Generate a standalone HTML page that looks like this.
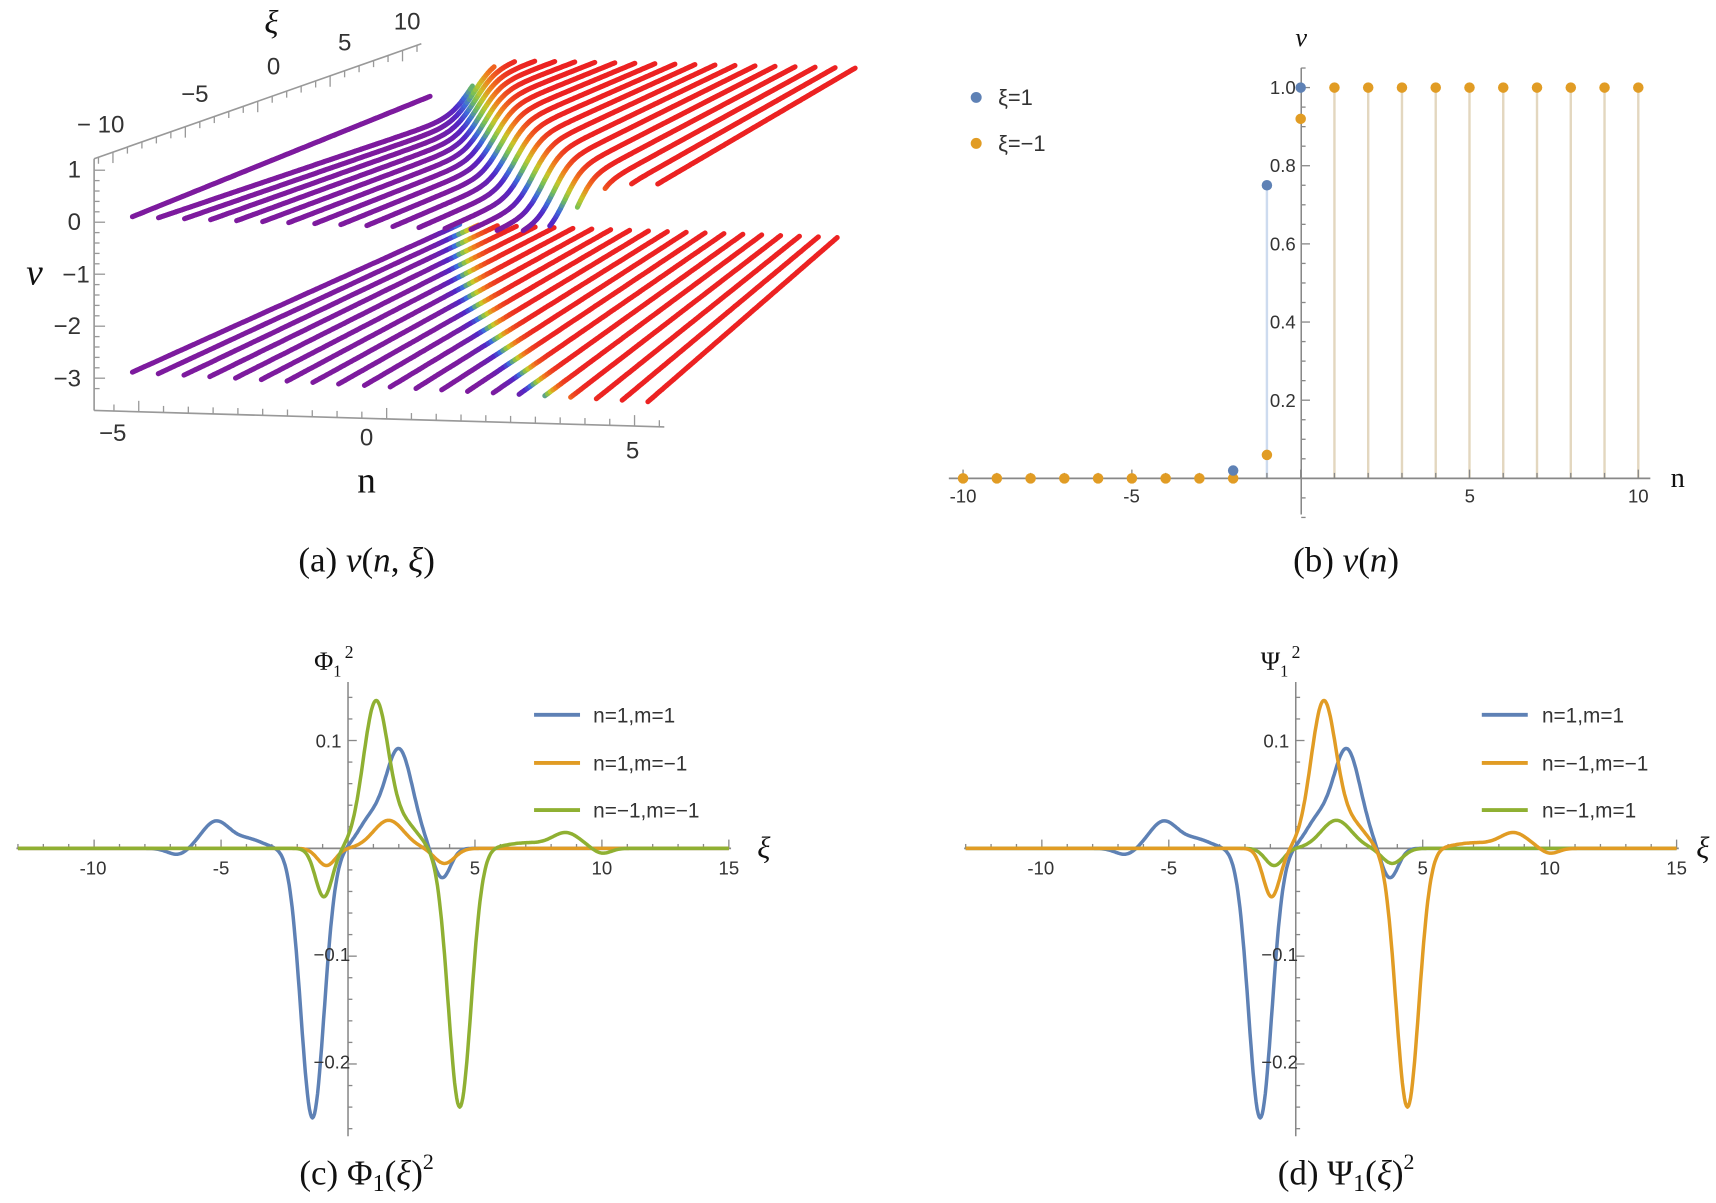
<!DOCTYPE html>
<html><head><meta charset="utf-8"><style>
html,body{margin:0;padding:0;background:#fff;}
svg{display:block;}
.t{font-family:"Liberation Sans",sans-serif;fill:#333;}
.s{font-family:"Liberation Serif",serif;fill:#111;}
</style></head><body>
<svg id="sv" xmlns="http://www.w3.org/2000/svg" width="1716" height="1203" viewBox="0 0 1568 1099" preserveAspectRatio="none">
<rect width="1568" height="1099" fill="#fff"/>
<g id="a3d"></g>
<g stroke="#999" stroke-width="1.5" fill="none">
<line x1="86" y1="375" x2="607" y2="390"/>
<line x1="86" y1="145" x2="86" y2="375"/>
<line x1="86" y1="145" x2="385" y2="40"/>
</g>
<g id="ticks3d" stroke="#999" stroke-width="1.2"></g>
<g class="t" font-size="22" fill="#222">
<text x="74" y="162" text-anchor="end">1</text>
<text x="74" y="210" text-anchor="end">0</text>
<text x="82" y="258" text-anchor="end">−1</text>
<text x="74" y="305" text-anchor="end">−2</text>
<text x="74" y="353" text-anchor="end">−3</text>
<text x="103" y="403" text-anchor="middle">−5</text>
<text x="335" y="407" text-anchor="middle">0</text>
<text x="578" y="419" text-anchor="middle">5</text>
<text x="92" y="121" text-anchor="middle">− 10</text>
<text x="178" y="93" text-anchor="middle">−5</text>
<text x="250" y="68" text-anchor="middle">0</text>
<text x="315" y="46" text-anchor="middle">5</text>
<text x="372" y="27" text-anchor="middle">10</text>
</g>
<text class="s" x="24" y="260" font-size="34" font-style="italic">ν</text>
<text class="s" x="248" y="30" font-size="30" font-style="italic" text-anchor="middle">ξ</text>
<text class="s" x="335" y="450" font-size="34" text-anchor="middle">n</text>

<g id="pb"></g>
<g class="t" font-size="17" fill="#444">
<text x="1184" y="86" text-anchor="end">1.0</text>
<text x="1184" y="157" text-anchor="end">0.8</text>
<text x="1184" y="229" text-anchor="end">0.6</text>
<text x="1184" y="300" text-anchor="end">0.4</text>
<text x="1184" y="372" text-anchor="end">0.2</text>
<text x="880" y="459" text-anchor="middle">-10</text>
<text x="1034" y="459" text-anchor="middle">-5</text>
<text x="1343" y="459" text-anchor="middle">5</text>
<text x="1497" y="459" text-anchor="middle">10</text>
<text x="912" y="96" font-size="20">ξ=1</text>
<text x="912" y="138" font-size="20">ξ=−1</text>
</g>
<circle cx="892" cy="89" r="5" fill="#5e81b5"/>
<circle cx="892" cy="131" r="5" fill="#e19c24"/>
<text class="s" x="1189" y="42" font-size="24" font-style="italic" text-anchor="middle">ν</text>
<text class="s" x="1533" y="445" font-size="26" text-anchor="middle">n</text>

<g id="pc"></g>
<g id="pd"></g>
<g class="t" font-size="17" fill="#444">
<text x="312" y="683" text-anchor="end">0.1</text>
<text x="320" y="878" text-anchor="end">−0.1</text>
<text x="320" y="976" text-anchor="end">−0.2</text>
<text x="85" y="799" text-anchor="middle">-10</text>
<text x="202" y="799" text-anchor="middle">-5</text>
<text x="434" y="799" text-anchor="middle">5</text>
<text x="550" y="799" text-anchor="middle">10</text>
<text x="666" y="799" text-anchor="middle">15</text>
<text x="1178" y="683" text-anchor="end">0.1</text>
<text x="1186" y="878" text-anchor="end">−0.1</text>
<text x="1186" y="976" text-anchor="end">−0.2</text>
<text x="951" y="799" text-anchor="middle">-10</text>
<text x="1068" y="799" text-anchor="middle">-5</text>
<text x="1300" y="799" text-anchor="middle">5</text>
<text x="1416" y="799" text-anchor="middle">10</text>
<text x="1532" y="799" text-anchor="middle">15</text>
<g font-size="19" fill="#333">
<text x="542" y="660">n=1,m=1</text>
<text x="542" y="704">n=1,m=−1</text>
<text x="542" y="747">n=−1,m=−1</text>
<text x="1409" y="660">n=1,m=1</text>
<text x="1409" y="704">n=−1,m=−1</text>
<text x="1409" y="747">n=−1,m=1</text>
</g>
</g>
<g stroke-width="3.5">
<line x1="488" y1="653" x2="530" y2="653" stroke="#5e81b5"/>
<line x1="488" y1="697" x2="530" y2="697" stroke="#e19c24"/>
<line x1="488" y1="740" x2="530" y2="740" stroke="#8fb032"/>
<line x1="1354" y1="653" x2="1396" y2="653" stroke="#5e81b5"/>
<line x1="1354" y1="697" x2="1396" y2="697" stroke="#e19c24"/>
<line x1="1354" y1="740" x2="1396" y2="740" stroke="#8fb032"/>
</g>
<text class="s" x="692" y="784" font-size="28" font-style="italic">ξ</text>
<text class="s" x="1550" y="784" font-size="28" font-style="italic">ξ</text>
<text class="s" x="287" y="612" font-size="24">Φ<tspan font-size="15" dy="6">1</tspan><tspan font-size="16" dy="-17" dx="3">2</tspan></text>
<text class="s" x="1152" y="612" font-size="24">Ψ<tspan font-size="15" dy="6">1</tspan><tspan font-size="16" dy="-17" dx="3">2</tspan></text>

<g class="s" font-size="32" text-anchor="middle">
<text x="335" y="522">(a) <tspan font-style="italic">ν</tspan>(<tspan font-style="italic">n</tspan>, <tspan font-style="italic">ξ</tspan>)</text>
<text x="1230" y="522">(b) <tspan font-style="italic">ν</tspan>(<tspan font-style="italic">n</tspan>)</text>
<text x="335" y="1082">(c) Φ<tspan font-size="22" dy="6">1</tspan><tspan dy="-6">(</tspan><tspan font-style="italic">ξ</tspan>)<tspan font-size="20" dy="-14">2</tspan></text>
<text x="1230" y="1082">(d) Ψ<tspan font-size="22" dy="6">1</tspan><tspan dy="-6">(</tspan><tspan font-style="italic">ξ</tspan>)<tspan font-size="20" dy="-14">2</tspan></text>
</g>
</svg>
<script>
(function(){
var NS="http://www.w3.org/2000/svg";
function el(p,n,a){var e=document.createElementNS(NS,n);for(var k in a)e.setAttribute(k,a[k]);p.appendChild(e);return e;}
function lerp(a,b,t){return a+(b-a)*t;}
function sig(x){return 1/(1+Math.exp(-x));}
var stops=[[0,[125,27,158]],[0.2,[80,40,200]],[0.35,[60,110,220]],[0.5,[110,190,90]],[0.65,[200,200,40]],[0.8,[240,130,30]],[1,[236,34,34]]];
function cmap(u){u=Math.max(0,Math.min(1,u));for(var i=1;i<stops.length;i++){if(u<=stops[i][0]){var a=stops[i-1],b=stops[i],t=(u-a[0])/(b[0]-a[0]);return "rgb("+[0,1,2].map(function(k){return Math.round(lerp(a[1][k],b[1][k],t));}).join(",")+")";}}return "rgb(236,34,34)";}
var g=document.getElementById("a3d");
function drawLine(pts,cols){for(var k=0;k<pts.length-1;k++){el(g,"line",{x1:pts[k][0].toFixed(1),y1:pts[k][1].toFixed(1),x2:pts[k+1][0].toFixed(1),y2:pts[k+1][1].toFixed(1),stroke:cols[k],"stroke-width":4.6,"stroke-linecap":"round"});}}
var N=80;
for(var i=0;i<=20;i++){
 var sx=121+23.55*i, sy=340+1.35*i, ex=420+17.25*i, ey=205+0.6*i;
 var c=(16.2-i)/16;
 var pts=[],cols=[];
 for(var k=0;k<=N;k++){var s=k/N;pts.push([lerp(sx,ex,s),lerp(sy,ey,s)]);
  if(k<N){var sm=(k+0.5)/N;cols.push(cmap(sig((sm-c)/0.03)));}}
 drawLine(pts,cols);
}
for(var j=0;j<=20;j++){
 var sx=121+23.8*j, sy=198+0.9*j, ex,ey;
 if(j==0){ex=393;ey=88;}else{ex=448+18.3*(j-2);ey=103+0.4*(j-2);}
 var c=(17-j)/16;
 var pts=[],cols=[];
 for(var k=0;k<=N*2;k++){var s=k/(N*2);var nu=sig((s-c)/0.032);if(j==0)nu=0;
  pts.push([lerp(sx,ex,s)+nu*4,lerp(sy,ey,s)-48*nu]);
  if(k<N*2){var sm=(k+0.5)/(N*2);var nm=j==0?0:sig((sm-c)/0.032);cols.push(cmap(nm));}}
 drawLine(pts,cols);
}
var tg=document.getElementById("ticks3d");
for(var v=-3.2;v<=1.01;v+=0.2){var y=203-47.5*v;var maj=Math.abs(v-Math.round(v))<0.01;el(tg,"line",{x1:86,y1:y,x2:maj?96:91,y2:y});}
for(var n=-5.5;n<=5.5;n+=0.5){var t=(n+5.9)/11.5;var x=lerp(86,607,t),y=lerp(375,390,t);var maj=Math.abs(n-Math.round(n))<0.01&&Math.round(n)%5==0;el(tg,"line",{x1:x,y1:y,x2:x,y2:y-(maj?10:6)});}
for(var xi=-11;xi<=11;xi++){var t=(xi+11.3)/22.6;var x=lerp(86,385,t),y=lerp(145,40,t);el(tg,"line",{x1:x,y1:y,x2:x,y2:y+(xi%5==0?10:6)});}
var pb=document.getElementById("pb");
function bx(n){return 1188.5+30.85*n;} function by(v){return 437-357*v;}
for(var n=1;n<=10;n++)el(pb,"line",{x1:bx(n),y1:437,x2:bx(n),y2:by(1),stroke:"#e3d7bf","stroke-width":2.2});
el(pb,"line",{x1:bx(-1),y1:437,x2:bx(-1),y2:by(0.75),stroke:"#cddbef","stroke-width":2.2});
el(pb,"line",{x1:867,y1:437,x2:1508,y2:437,stroke:"#888","stroke-width":1.6});
el(pb,"line",{x1:1189,y1:62,x2:1189,y2:470,stroke:"#888","stroke-width":1.4});
for(var v=-0.1;v<=1.051;v+=0.05){var y=by(v);var maj=Math.abs(v*5-Math.round(v*5))<0.01;el(pb,"line",{x1:1189,y1:y,x2:maj?1197:1193,y2:y,stroke:"#888","stroke-width":1.2});}
for(var n=-10;n<=10;n++){el(pb,"line",{x1:bx(n),y1:437,x2:bx(n),y2:n%5==0?429:432,stroke:"#888","stroke-width":1.2});}
function dot(n,v,c){el(pb,"circle",{cx:bx(n),cy:by(v),r:4.8,fill:c});}
for(var n=-10;n<=-2;n++)dot(n,0,"#e19c24");
dot(-2,0.02,"#5e81b5");dot(-1,0.06,"#e19c24");dot(-1,0.75,"#5e81b5");
dot(0,0.92,"#e19c24");dot(0,1.0,"#5e81b5");
for(var n=1;n<=10;n++)dot(n,1,"#e19c24");
function ga(x,m,s){var d=(x-m)/s;return Math.exp(-d*d/2);}
function fb(x){return -0.006*ga(x,-6.7,0.4)+0.025*ga(x,-5.2,0.55)+0.008*ga(x,-3.9,0.55)-0.25*ga(x,-1.4,0.46)+0.092*ga(x,2.0,0.55)+0.022*ga(x,0.8,0.45)-0.028*ga(x,3.7,0.33);}
function fs(x){return -0.016*ga(x,-0.85,0.35)+0.026*ga(x,1.6,0.6)-0.014*ga(x,3.8,0.4);}
function fl(x){return -0.045*ga(x,-0.95,0.33)+0.136*ga(x,1.1,0.5)+0.02*ga(x,2.3,0.5)-0.24*ga(x,4.4,0.45)+0.005*ga(x,7,0.8)+0.014*ga(x,8.6,0.55)-0.005*ga(x,10,0.35);}
function panel(id,x0,series){
 var p=document.getElementById(id);
 el(p,"line",{x1:x0-303,y1:775,x2:x0+350,y2:775,stroke:"#888","stroke-width":1.6});
 el(p,"line",{x1:x0,y1:623,x2:x0,y2:1038,stroke:"#888","stroke-width":1.4});
 for(var xi=-13;xi<=15;xi++){var x=x0+23.2*xi;el(p,"line",{x1:x,y1:775,x2:x,y2:xi%5==0?767:771,stroke:"#888","stroke-width":1.2});}
 for(var v=-0.26;v<=0.141;v+=0.02){var y=775-985*v;var maj=Math.abs(v*10-Math.round(v*10))<0.01;el(p,"line",{x1:x0,y1:y,x2:x0+(maj?8:4),y2:y,stroke:"#888","stroke-width":1.2});}
 series.forEach(function(s){var d="";for(var k=0;k<=700;k++){var xi=-13+28*k/700;var x=x0+23.2*xi,y=775-985*s[0](xi);d+=(k?"L":"M")+x.toFixed(1)+" "+y.toFixed(1);}
  el(p,"path",{d:d,fill:"none",stroke:s[1],"stroke-width":3.2,"stroke-linejoin":"round"});});
}
panel("pc",318,[[fb,"#5e81b5"],[fs,"#e19c24"],[fl,"#8fb032"]]);
panel("pd",1184,[[fb,"#5e81b5"],[fs,"#8fb032"],[fl,"#e19c24"]]);
})();
</script>
</body></html>
